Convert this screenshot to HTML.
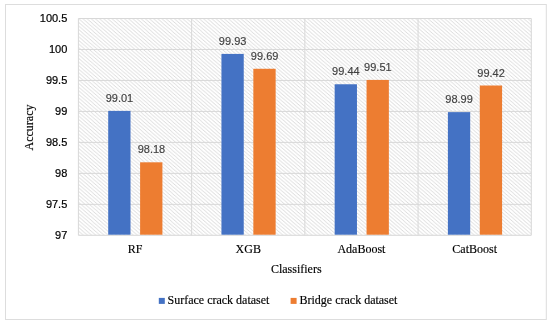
<!DOCTYPE html>
<html lang="en">
<head>
<meta charset="utf-8">
<title>Accuracy of classifiers</title>
<style>
html,body{margin:0;padding:0;background:#fff;}
body{width:550px;height:324px;overflow:hidden;}
svg{display:block;}
.tick{font-family:"Liberation Sans",sans-serif;font-size:11px;fill:#000;stroke:#000;stroke-width:0.2px;}
.dl{font-family:"Liberation Sans",sans-serif;font-size:11px;fill:#404040;stroke:#404040;stroke-width:0.15px;}
.ser{font-family:"Liberation Serif",serif;font-size:12px;fill:#000;stroke:#000;stroke-width:0.15px;}
</style>
</head>
<body>
<svg width="550" height="324" viewBox="0 0 550 324">
<defs>
<pattern id="hatch" patternUnits="userSpaceOnUse" x="78.4" y="18.5" width="4.16" height="3.6">
<path d="M-4.16,-3.6 L8.32,7.2 M-4.16,0 L4.16,7.2 M0,-3.6 L8.32,3.6" stroke="#d1d1d1" stroke-width="0.78" fill="none"/>
</pattern>
</defs>
<rect x="0" y="0" width="550" height="324" fill="#fff"/>
<rect x="5.5" y="4.5" width="540.8" height="315" fill="#fff" stroke="#dddddd" stroke-width="1"/>
<rect x="78.4" y="18.5" width="452.90" height="216.80" fill="url(#hatch)"/>
<line x1="78.4" y1="18.50" x2="531.3" y2="18.50" stroke="#d8d8d8" stroke-width="1"/>
<line x1="78.4" y1="49.47" x2="531.3" y2="49.47" stroke="#d8d8d8" stroke-width="1"/>
<line x1="78.4" y1="80.44" x2="531.3" y2="80.44" stroke="#d8d8d8" stroke-width="1"/>
<line x1="78.4" y1="111.41" x2="531.3" y2="111.41" stroke="#d8d8d8" stroke-width="1"/>
<line x1="78.4" y1="142.39" x2="531.3" y2="142.39" stroke="#d8d8d8" stroke-width="1"/>
<line x1="78.4" y1="173.36" x2="531.3" y2="173.36" stroke="#d8d8d8" stroke-width="1"/>
<line x1="78.4" y1="204.33" x2="531.3" y2="204.33" stroke="#d8d8d8" stroke-width="1"/>
<line x1="78.4" y1="235.30" x2="531.3" y2="235.30" stroke="#d8d8d8" stroke-width="1"/>
<line x1="78.40" y1="18.5" x2="78.40" y2="235.3" stroke="#d8d8d8" stroke-width="1"/>
<line x1="191.62" y1="18.5" x2="191.62" y2="235.3" stroke="#d8d8d8" stroke-width="1"/>
<line x1="304.85" y1="18.5" x2="304.85" y2="235.3" stroke="#d8d8d8" stroke-width="1"/>
<line x1="418.07" y1="18.5" x2="418.07" y2="235.3" stroke="#d8d8d8" stroke-width="1"/>
<line x1="531.30" y1="18.5" x2="531.30" y2="235.3" stroke="#d8d8d8" stroke-width="1"/>
<rect x="108.21" y="110.89" width="22.3" height="123.81" fill="#4472c4"/>
<rect x="140.11" y="162.31" width="22.3" height="72.39" fill="#ed7d31"/>
<text class="dl" text-anchor="middle" x="119.41" y="101.89">99.01</text>
<text class="dl" text-anchor="middle" x="151.41" y="153.31">98.18</text>
<text class="ser" text-anchor="middle" x="135.01" y="253">RF</text>
<rect x="221.44" y="53.91" width="22.3" height="180.79" fill="#4472c4"/>
<rect x="253.34" y="68.77" width="22.3" height="165.93" fill="#ed7d31"/>
<text class="dl" text-anchor="middle" x="232.64" y="44.91">99.93</text>
<text class="dl" text-anchor="middle" x="264.64" y="59.77">99.69</text>
<text class="ser" text-anchor="middle" x="248.24" y="253">XGB</text>
<rect x="334.66" y="84.26" width="22.3" height="150.44" fill="#4472c4"/>
<rect x="366.56" y="79.92" width="22.3" height="154.78" fill="#ed7d31"/>
<text class="dl" text-anchor="middle" x="345.86" y="75.26">99.44</text>
<text class="dl" text-anchor="middle" x="377.86" y="70.92">99.51</text>
<text class="ser" text-anchor="middle" x="361.46" y="253">AdaBoost</text>
<rect x="447.89" y="112.13" width="22.3" height="122.57" fill="#4472c4"/>
<rect x="479.79" y="85.50" width="22.3" height="149.20" fill="#ed7d31"/>
<text class="dl" text-anchor="middle" x="459.09" y="103.13">98.99</text>
<text class="dl" text-anchor="middle" x="491.09" y="76.50">99.42</text>
<text class="ser" text-anchor="middle" x="474.69" y="253">CatBoost</text>
<text class="tick" text-anchor="end" x="67.3" y="22.45">100.5</text>
<text class="tick" text-anchor="end" x="67.3" y="53.35">100</text>
<text class="tick" text-anchor="end" x="67.3" y="84.25">99.5</text>
<text class="tick" text-anchor="end" x="67.3" y="115.15">99</text>
<text class="tick" text-anchor="end" x="67.3" y="146.05">98.5</text>
<text class="tick" text-anchor="end" x="67.3" y="176.95">98</text>
<text class="tick" text-anchor="end" x="67.3" y="207.85">97.5</text>
<text class="tick" text-anchor="end" x="67.3" y="238.75">97</text>
<text class="ser" text-anchor="middle" transform="translate(33,127.5) rotate(-90)">Accuracy</text>
<text class="ser" text-anchor="middle" x="296.3" y="273.4">Classifiers</text>
<rect x="158.8" y="297.9" width="6" height="6" fill="#4472c4"/>
<text class="ser" x="167.5" y="304.4">Surface crack dataset</text>
<rect x="290.6" y="297.9" width="6" height="6" fill="#ed7d31"/>
<text class="ser" x="299.5" y="304.4">Bridge crack dataset</text>
</svg>
</body>
</html>
